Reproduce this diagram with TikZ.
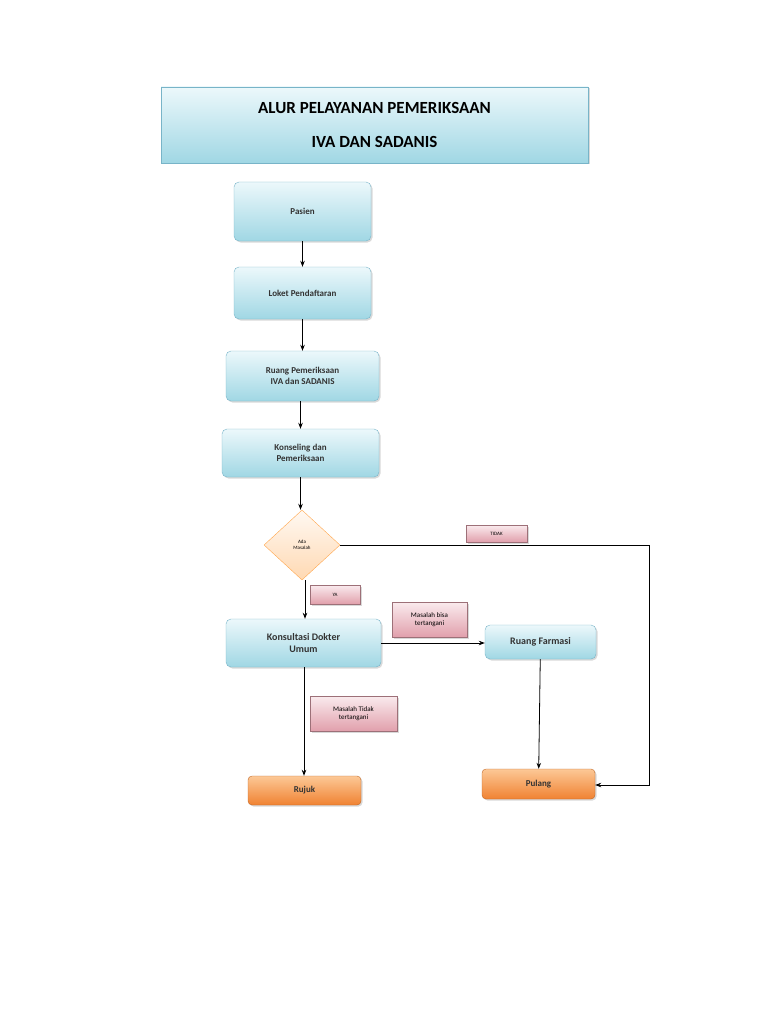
\documentclass[tikz,border=0pt]{standalone}
\usepackage{fontspec}
\setmainfont{Carlito}
\usetikzlibrary{shapes.geometric,arrows.meta,shadows}
\definecolor{btop}{RGB}{236,248,251}
\definecolor{bbot}{RGB}{160,215,228}
\definecolor{bdr}{RGB}{120,180,200}
\definecolor{ltop}{RGB}{250,235,238}
\definecolor{lbot}{RGB}{225,160,172}
\definecolor{otop}{RGB}{252,200,150}
\definecolor{obot}{RGB}{240,130,50}
\begin{document}
\begin{tikzpicture}[x=1pt,y=-1pt,
 box/.style={draw=bdr,rounded corners=5pt,top color=btop,bottom color=bbot,drop shadow={shadow xshift=1.5pt,shadow yshift=-1.5pt,opacity=.3},align=center,font=\small\bfseries,text=black!80},
 obox/.style={draw=obot!80!black,rounded corners=4pt,top color=otop,bottom color=obot,drop shadow={shadow xshift=1.5pt,shadow yshift=-1.5pt,opacity=.3},font=\small\bfseries,text=black!80},
 lab/.style={draw=lbot!70!black,top color=ltop,bottom color=lbot,drop shadow={shadow xshift=1.5pt,shadow yshift=-1.5pt,opacity=.3},align=center,font=\tiny,inner sep=1pt},
 arr/.style={-{Stealth[length=6pt]},thick}]
\useasboundingbox (0,0) rectangle (768,1024);
\node[box,minimum width=427pt,minimum height=76pt,rounded corners=0pt,font=\fontsize{17}{20}\selectfont\bfseries,text=black] (t) at (374.5,125) {ALUR PELAYANAN PEMERIKSAAN\\[14pt]IVA DAN SADANIS};
\node[box,minimum width=137pt,minimum height=59pt] (p) at (302.5,211.5) {Pasien};
\node[box,minimum width=137pt,minimum height=52pt] (l) at (302.5,293) {Loket Pendaftaran};
\node[box,minimum width=153pt,minimum height=50pt] (r) at (302.5,376) {Ruang Pemeriksaan\\IVA dan SADANIS};
\node[box,minimum width=157pt,minimum height=48pt] (k) at (300.5,453) {Konseling dan\\Pemeriksaan};
\node[diamond,draw=orange!70,top color=orange!5,bottom color=orange!30,minimum width=76pt,minimum height=70pt,inner sep=0pt,align=center,font=\tiny] (d) at (302,545) {Ada\\Masalah};
\node[lab,minimum width=61pt,minimum height=17pt] (ti) at (496.5,533.5) {TIDAK};
\node[lab,minimum width=50pt,minimum height=19pt] (ya) at (335,594.5) {YA};
\node[box,minimum width=155pt,minimum height=48pt,font=\normalsize\bfseries] (ks) at (303.5,643) {Konsultasi Dokter\\Umum};
\node[lab,minimum width=75pt,minimum height=35pt,font=\scriptsize] (mb) at (429.5,619.5) {Masalah bisa\\tertangani};
\node[box,minimum width=111pt,minimum height=34pt,font=\normalsize\bfseries] (f) at (540.5,642) {Ruang Farmasi};
\node[lab,minimum width=87pt,minimum height=35pt,font=\scriptsize] (mt) at (353.5,713.5) {Masalah Tidak\\tertangani};
\node[obox,minimum width=113pt,minimum height=29pt] (rj) at (304.5,790.5) {Rujuk};
\node[obox,minimum width=113pt,minimum height=30pt] (pl) at (538.5,784) {Pulang};
\coordinate (c1) at (649,545);
\coordinate (c2) at (649,785);
\draw[arr] (p) -- (l);
\draw[arr] (l) -- (r);
\draw[arr] (r.south -| k) -- (k);
\draw[arr] (k) -- (d.north -| k);
\draw[arr] (d.south -| 305,0) -- (ks.north -| 305,0);
\draw[arr] (ks.east) -- (f.west |- ks.east);
\draw[arr] (f) -- (pl);
\draw[arr] (ks.south -| 304,0) -- (rj.north -| 304,0);
\draw[arr] (d.east) -- (c1) -- (c2) -- (pl.east |- c2);
\end{tikzpicture}
\end{document}
